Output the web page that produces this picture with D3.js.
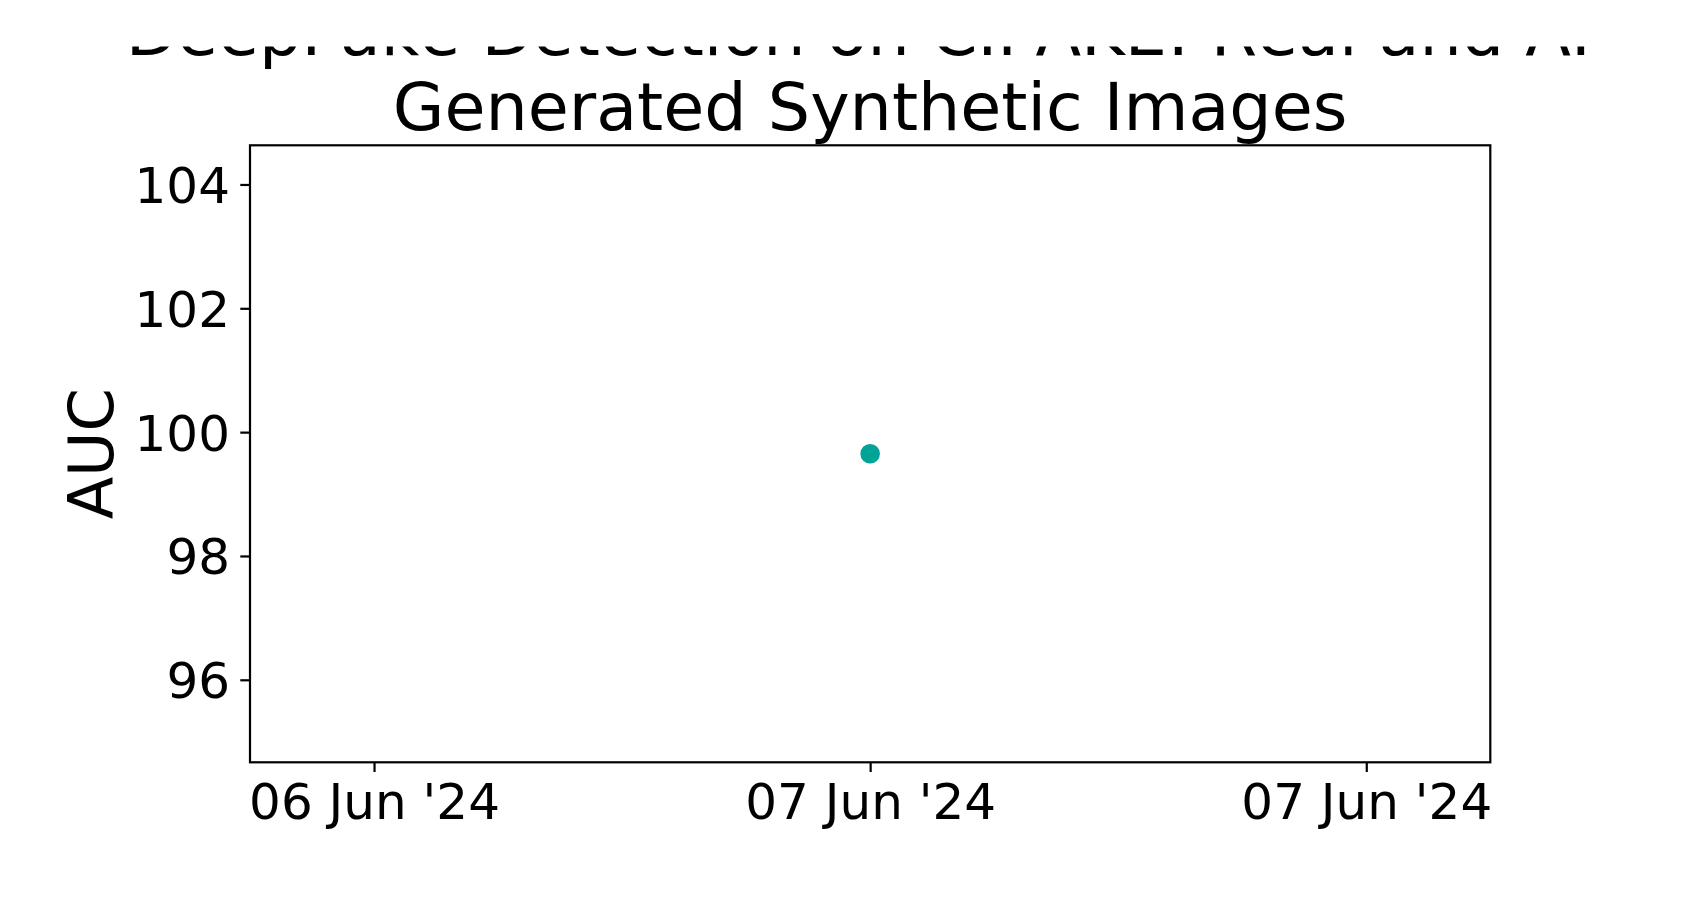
<!DOCTYPE html>
<html>
<head>
<meta charset="utf-8">
<script src="https://cdn.jsdelivr.net/npm/d3@7"></script>
<style>
  html, body { margin: 0; padding: 0; background: #fff; }
  svg { display: block; font-family: "DejaVu Sans", sans-serif; }
  .title { font-kerning: none; }
</style>
</head>
<body>
<svg id="chart" width="1700" height="900"></svg>
<script>
// ---- data ----
const dates = ["2024-06-07T06:00:00Z"];
const aucValues = [99.65];
const xTickDates = ["2024-06-06T18:00:00Z", "2024-06-07T06:00:00Z", "2024-06-07T18:00:00Z"];
const yTickValues = [96, 98, 100, 102, 104];
const titleLines = ["DeepFake Detection on CIFAKE: Real and AI-", "Generated Synthetic Images"];
const yLabel = "AUC";

// ---- layout ----
const W = 1700, H = 900;
const margin = { left: 250, top: 145.3, right: 1700 - 1490.3, bottom: 900 - 762.3 };
const plotW = W - margin.left - margin.right;
const plotH = H - margin.top - margin.bottom;
const pointColor = "#00a396";
const tickLen = 9.7, tickPad = 9.7, lw = 2.2;
const tickFont = 50;

const svg = d3.select("#chart");
svg.append("rect").attr("width", W).attr("height", H).attr("fill", "#fff");

const parsed = dates.map(d => new Date(d));
const tickDates = xTickDates.map(d => new Date(d));
const center = parsed[0].getTime();
const halfSpan = 1.25 * (tickDates[1] - tickDates[0]);

const x = d3.scaleUtc()
  .domain([new Date(center - halfSpan), new Date(center + halfSpan)])
  .range([margin.left, margin.left + plotW]);

const v = aucValues[0];
const y = d3.scaleLinear()
  .domain([v * 0.95, v * 1.05])
  .range([margin.top + plotH, margin.top]);

const fmt = d3.utcFormat("%d %b '%y");

// ---- axes ----
const xAxis = d3.axisBottom(x)
  .tickValues(tickDates)
  .tickFormat(fmt)
  .tickSize(tickLen)
  .tickPadding(tickPad);

const gx = svg.append("g")
  .attr("transform", `translate(0,${margin.top + plotH})`)
  .call(xAxis);
gx.select(".domain").remove();
gx.selectAll(".tick line").attr("stroke", "#000").attr("stroke-width", lw);
gx.selectAll(".tick text")
  .attr("font-family", "DejaVu Sans")
  .attr("font-size", tickFont)
  .attr("fill", "#000")
  .attr("dy", "0")
  .attr("y", 819 - (margin.top + plotH));

const yAxis = d3.axisLeft(y)
  .tickValues(yTickValues)
  .tickFormat(d3.format("d"))
  .tickSize(tickLen)
  .tickPadding(tickPad + 0.6);

const gy = svg.append("g")
  .attr("transform", `translate(${margin.left},0)`)
  .call(yAxis);
gy.select(".domain").remove();
gy.selectAll(".tick line").attr("stroke", "#000").attr("stroke-width", lw);
gy.selectAll(".tick text")
  .attr("font-family", "DejaVu Sans")
  .attr("font-size", tickFont)
  .attr("fill", "#000")
  .attr("dy", "0.36em");

// ---- frame ----
svg.append("rect")
  .attr("x", margin.left)
  .attr("y", margin.top)
  .attr("width", plotW)
  .attr("height", plotH)
  .attr("fill", "none")
  .attr("stroke", "#000")
  .attr("stroke-width", lw);

// ---- points ----
svg.append("g")
  .selectAll("circle")
  .data(aucValues.map((d, i) => ({ date: parsed[i], value: d })))
  .join("circle")
  .attr("cx", d => x(d.date))
  .attr("cy", d => y(d.value))
  .attr("r", 9.8)
  .attr("fill", pointColor);

// ---- y label ----
svg.append("text")
  .attr("transform", `translate(113,${margin.top + plotH / 2}) rotate(-90)`)
  .attr("text-anchor", "middle")
  .attr("font-family", "DejaVu Sans")
  .attr("font-size", 62)
  .attr("fill", "#000")
  .text(yLabel);

// ---- title (first line clipped at top as in reference) ----
svg.append("defs").append("clipPath").attr("id", "titleClip")
  .append("rect").attr("x", 0).attr("y", 46.5).attr("width", W).attr("height", H);

const cx = margin.left + plotW / 2;
const baselines = [55, 130];
titleLines.forEach((t, i) => {
  svg.append("text")
    .attr("class", "title")
    .attr("x", cx)
    .attr("y", baselines[i])
    .attr("text-anchor", "middle")
    .attr("font-family", "DejaVu Sans")
    .attr("font-size", 66.7)
    .attr("fill", "#000")
    .attr("clip-path", i === 0 ? "url(#titleClip)" : null)
    .text(t);
});
</script>
</body>
</html>
